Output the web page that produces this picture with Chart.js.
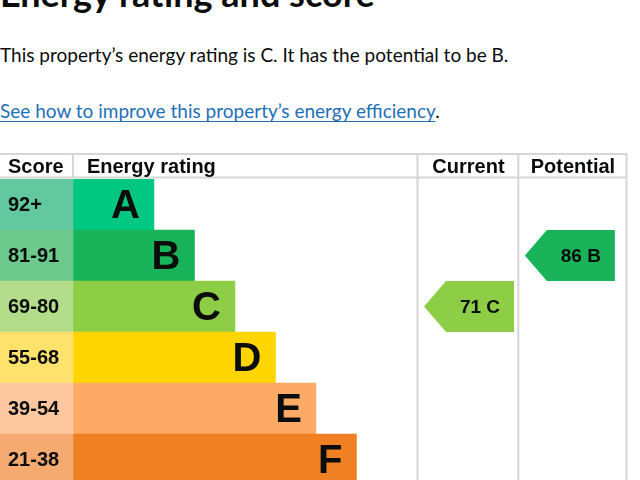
<!DOCTYPE html>
<html>
<head>
<meta charset="utf-8">
<title>Energy rating and score</title>
<script src="https://cdn.jsdelivr.net/npm/chart.js@4/dist/chart.umd.min.js"></script>
<style>
  html, body { margin: 0; padding: 0; background: #fff; overflow: hidden; }
  body { width: 640px; height: 480px; position: relative; color: #0b0c0c; font-family: Lato, "Noto Sans", sans-serif; }
  h2 { position: absolute; left: 0; top: -27px; margin: 0; font-size: 36px; line-height: 40px; font-weight: 700; white-space: nowrap; }
  .lead { position: absolute; left: 0; top: 42px; margin: 0; font-size: 19px; line-height: 25px; white-space: nowrap; }
  .more { position: absolute; left: 0; top: 98px; margin: 0; font-size: 19px; line-height: 25px; white-space: nowrap; }
  .more a { color: #1d70b8; text-decoration: underline; text-underline-offset: 3px; }
  #wrap { position: absolute; left: 0; top: 150px; width: 640px; height: 400px; }
</style>
</head>
<body>
<h2>Energy rating and score</h2>
<p class="lead">This property’s energy rating is C. It has the potential to be B.</p>
<p class="more"><a href="#">See how to improve this property’s energy efficiency</a>.</p>
<div id="wrap"><canvas id="epc" width="640" height="400"></canvas></div>

<script>
// EPC bands, top to bottom
const ratings = ['A', 'B', 'C', 'D', 'E', 'F', 'G'];
const scoreBands = ['92+', '81-91', '69-80', '55-68', '39-54', '21-38', '1-20'];
const barLengths = [2, 3, 4, 5, 6, 7, 8];
const bandColours = ['#00c781', '#19b459', '#8dce46', '#ffd500', '#fcaa65', '#ef8023', '#e9153b'];
const scoreCellColours = ['#63c7a0', '#6dc98c', '#b3dd8b', '#ffe26c', '#fdc8a0', '#f4aa70', '#f27389'];
const headers = ['Score', 'Energy rating', 'Current', 'Potential'];

const currentScore = 71;
const currentRating = 'C';
const potentialScore = 86;
const potentialRating = 'B';

// column edges in x-axis units (score | rating | current | potential)
const colEdges = [0, 1.8, 10.32, 12.81, 15.48];
const scoreColWidth = colEdges[1];
const headerHeight = 25;
const lineColour = '#d6d6d6';
const font = '"Liberation Sans", Arial, sans-serif';

// draws the table lines, texts and the current/potential arrows
const epcTable = {
  id: 'epcTable',
  afterDatasetsDraw(chart) {
    const { ctx, chartArea, scales: { x, y } } = chart;
    const top = chartArea.top - headerHeight;
    const bottom = chart.height;
    const xs = colEdges.map(v => x.getPixelForValue(v));

    ctx.save();
    ctx.strokeStyle = lineColour;
    ctx.lineWidth = 2;
    ctx.beginPath();
    ctx.moveTo(0, top); ctx.lineTo(xs[4], top);
    ctx.moveTo(0, chartArea.top - 1.5); ctx.lineTo(xs[4], chartArea.top - 1.5);
    ctx.moveTo(xs[1], top); ctx.lineTo(xs[1], chartArea.top - 1.5);
    [2, 3, 4].forEach(i => {
      ctx.moveTo(xs[i] - 0.5, top); ctx.lineTo(xs[i] - 0.5, bottom);
    });
    ctx.stroke();

    // header row
    ctx.fillStyle = '#0b0c0c';
    ctx.font = 'bold 20px ' + font;
    ctx.textBaseline = 'middle';
    const hy = top + headerHeight / 2 + 1;
    ctx.textAlign = 'left';
    ctx.fillText(headers[0], xs[0] + 8, hy);
    ctx.fillText(headers[1], xs[1] + 14, hy);
    ctx.textAlign = 'center';
    ctx.fillText(headers[2], (xs[2] + xs[3]) / 2, hy);
    ctx.fillText(headers[3], (xs[3] + xs[4]) / 2, hy);

    // score ranges and band letters
    const cells = chart.getDatasetMeta(0).data;
    const bars = chart.getDatasetMeta(1).data;
    ctx.textAlign = 'left';
    ctx.font = 'bold 20px ' + font;
    cells.forEach((c, i) => ctx.fillText(scoreBands[i], xs[0] + 8, c.y + 1));
    ctx.textAlign = 'right';
    ctx.font = 'bold 40px ' + font;
    bars.forEach((b, i) => ctx.fillText(ratings[i], b.x - 14, b.y + 2));

    // arrows
    const drawArrow = (col, rating, score) => {
      const i = ratings.indexOf(rating);
      const bar = bars[i];
      const half = bar.height / 2;
      const left = xs[col] + 6;
      const right = left + 90;
      const tip = 22;
      ctx.fillStyle = bandColours[i];
      ctx.beginPath();
      ctx.moveTo(left, bar.y);
      ctx.lineTo(left + tip, bar.y - half);
      ctx.lineTo(right, bar.y - half);
      ctx.lineTo(right, bar.y + half);
      ctx.lineTo(left + tip, bar.y + half);
      ctx.closePath();
      ctx.fill();
      ctx.fillStyle = '#0b0c0c';
      ctx.font = 'bold 19px ' + font;
      ctx.textAlign = 'center';
      ctx.fillText(score + ' ' + rating, (left + tip + right) / 2, bar.y + 1);
    };
    drawArrow(2, currentRating, currentScore);
    drawArrow(3, potentialRating, potentialScore);
    ctx.restore();
  }
};

new Chart(document.getElementById('epc'), {
  type: 'bar',
  data: {
    labels: ratings,
    datasets: [
      {
        label: 'Score',
        data: ratings.map(() => scoreColWidth),
        backgroundColor: scoreCellColours,
        barPercentage: 1,
        categoryPercentage: 1,
        borderWidth: 0
      },
      {
        label: 'Energy rating',
        data: barLengths,
        backgroundColor: bandColours,
        barPercentage: 1,
        categoryPercentage: 1,
        borderWidth: 0
      }
    ]
  },
  options: {
    indexAxis: 'y',
    responsive: false,
    animation: false,
    devicePixelRatio: 1,
    layout: { padding: { top: 29, right: 13, bottom: 14, left: 0 } },
    scales: {
      x: { stacked: true, min: 0, max: colEdges[4], display: false },
      y: { stacked: true, display: false }
    },
    plugins: {
      legend: { display: false },
      tooltip: { enabled: false }
    }
  },
  plugins: [epcTable]
});
</script>
</body>
</html>
